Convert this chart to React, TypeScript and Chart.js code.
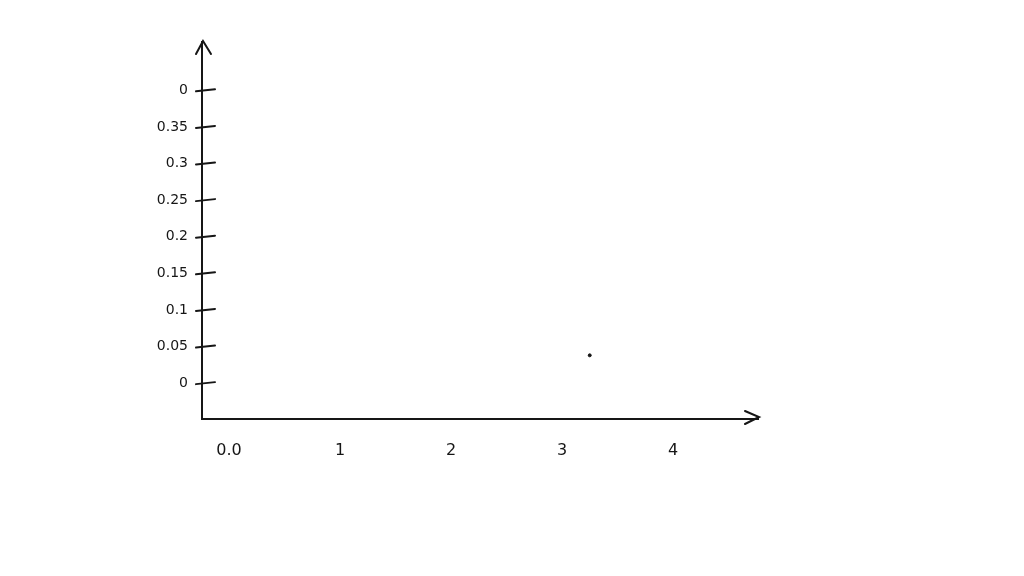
import React, { useEffect, useRef } from "react";
import { Chart, registerables } from "chart.js";

Chart.register(...registerables);

const yTickValues = [0, 0.05, 0.1, 0.15, 0.2, 0.25, 0.3, 0.35, 0.4];
const yTickLabels = ["0", "0.05", "0.1", "0.15", "0.2", "0.25", "0.3", "0.35", "0"];
const xTickValues = [0, 1, 2, 3, 4];
const xTickLabels = ["0.0", "1", "2", "3", "4"];
const strayX = [3.25];
const strayY = [0.038];

const INK = "#161616";

const sketchPlugin = {
  id: "sketch",
  afterDraw(chart: any) {
    const ctx = chart.ctx;
    const { left, right, top, bottom } = chart.chartArea;
    const ys = chart.scales.y;
    ctx.save();
    ctx.strokeStyle = INK;
    ctx.lineWidth = 2;
    ctx.lineCap = "round";
    // y tick marks crossing the axis
    yTickValues.forEach((v) => {
      const py = ys.getPixelForValue(v);
      ctx.beginPath();
      ctx.moveTo(left - 6, py + 1);
      ctx.lineTo(left + 13, py - 1);
      ctx.stroke();
    });
    // y arrow
    ctx.beginPath();
    ctx.moveTo(left - 6, top + 12);
    ctx.lineTo(left + 1, top - 1);
    ctx.lineTo(left + 9, top + 12);
    ctx.stroke();
    // x arrow
    ctx.beginPath();
    ctx.moveTo(right - 13, bottom - 8);
    ctx.lineTo(right + 1, bottom - 2);
    ctx.lineTo(right - 13, bottom + 5);
    ctx.stroke();
    ctx.restore();
  },
};

export default function App() {
  const ref = useRef<HTMLCanvasElement | null>(null);

  useEffect(() => {
    if (!ref.current) return;
    const chart = new Chart(ref.current, {
      type: "scatter",
      data: {
        datasets: [
          {
            data: strayX.map((x, i) => ({ x, y: strayY[i] })),
            backgroundColor: INK,
            borderColor: INK,
            pointRadius: 1.5,
            pointHoverRadius: 1.5,
          },
        ],
      },
      options: {
        responsive: true,
        maintainAspectRatio: false,
        animation: false,
        events: [],
        layout: { padding: { top: 42, right: 266, left: 0, bottom: 0 } },
        plugins: {
          legend: { display: false },
          tooltip: { enabled: false },
        },
        scales: {
          x: {
            type: "linear",
            min: -0.243,
            max: 4.766,
            afterFit: (s: any) => {
              s.height = 157;
            },
            afterBuildTicks: (s: any) => {
              s.ticks = xTickValues.map((v) => ({ value: v }));
            },
            grid: { display: false, drawTicks: false },
            border: { display: true, color: INK, width: 2 },
            ticks: {
              padding: 22,
              color: INK,
              font: { family: "DejaVu Sans", size: 16 },
              autoSkip: false,
              maxRotation: 0,
              callback: (_v: any, i: number) => xTickLabels[i],
            },
          },
          y: {
            type: "linear",
            min: -0.049,
            max: 0.466,
            afterFit: (s: any) => {
              s.width = 202;
            },
            afterBuildTicks: (s: any) => {
              s.ticks = yTickValues.map((v) => ({ value: v }));
            },
            grid: { display: false, drawTicks: false },
            border: { display: true, color: INK, width: 2 },
            ticks: {
              padding: 14,
              color: INK,
              font: { family: "DejaVu Sans", size: 14 },
              autoSkip: false,
              callback: (_v: any, i: number) => yTickLabels[i],
            },
          },
        },
      },
      plugins: [sketchPlugin],
    });
    return () => chart.destroy();
  }, []);

  return (
    <div
      style={{
        position: "fixed",
        left: 0,
        top: 0,
        width: "1024px",
        height: "576px",
        background: "#ffffff",
      }}
    >
      <canvas ref={ref} />
    </div>
  );
}
